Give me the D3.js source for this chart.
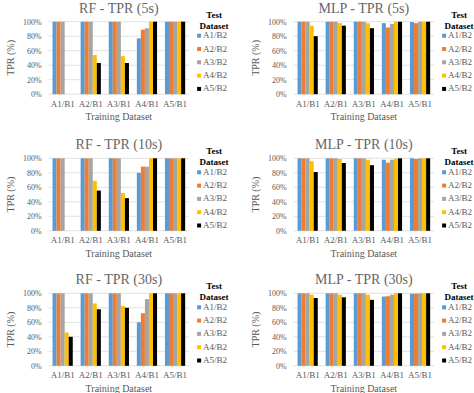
<!DOCTYPE html>
<html>
<head>
<meta charset="UTF-8">
<title>TPR panels</title>
<script src="https://cdn.jsdelivr.net/npm/d3@7"></script>
<style>
  body { margin: 0; background: #fff; }
  text { font-family: "Liberation Serif", "Times New Roman", serif; }
</style>
</head>
<body>
<svg id="svg" width="474" height="393"></svg>
<script>
// training datasets (x categories) and test datasets (series)
var categories = ["A1/B1", "A2/B1", "A3/B1", "A4/B1", "A5/B1"];
var series = ["A1/B2", "A2/B2", "A3/B2", "A4/B2", "A5/B2"];
var colors = ["#5B9BD5", "#ED7D31", "#A5A5A5", "#FFC000", "#000000"];
var yTicks = [0, 20, 40, 60, 80, 100];

// TPR (%) per training dataset, one value per test dataset
var rf5 = [
  [100, 100, 100, 0, 0],
  [100, 100, 100, 54, 43],
  [100, 100, 100, 52.5, 43],
  [77, 89, 91, 100, 100],
  [100, 100, 100, 100, 100]
];
var mlp5 = [
  [100, 100, 100, 94.5, 80],
  [100, 100, 100, 98, 94.5],
  [100, 100, 100, 98, 91],
  [98, 92, 97, 100, 100],
  [99.5, 98, 100, 100, 100]
];
var rf10 = [
  [100, 100, 100, 0, 0],
  [100, 100, 100, 69, 55.5],
  [100, 100, 100, 52, 45],
  [80, 88.5, 88.5, 100, 100],
  [100, 100, 100, 100, 100]
];
var mlp10 = [
  [100, 100, 100, 96, 81],
  [100, 100, 100, 99, 93.5],
  [100, 100, 100, 98, 90.5],
  [98, 94, 98, 99.5, 100],
  [100, 99, 100, 100, 100]
];
var rf30 = [
  [100, 100, 100, 46, 40],
  [100, 100, 100, 86, 78],
  [100, 100, 100, 82.5, 80],
  [60, 72.5, 92, 100, 100],
  [100, 100, 100, 100, 100]
];
var mlp30 = [
  [100, 100, 100, 98, 93.5],
  [100, 100, 100, 98, 94.5],
  [100, 100, 100, 98, 91],
  [95.5, 96, 98, 100, 100],
  [99.5, 99.5, 100, 100, 100]
];

var panels = [
  {title: "RF - TPR (5s)",   data: rf5,   col: 0, row: 0},
  {title: "MLP - TPR (5s)",  data: mlp5,  col: 1, row: 0},
  {title: "RF - TPR (10s)",  data: rf10,  col: 0, row: 1},
  {title: "MLP - TPR (10s)", data: mlp10, col: 1, row: 1},
  {title: "RF - TPR (30s)",  data: rf30,  col: 0, row: 2},
  {title: "MLP - TPR (30s)", data: mlp30, col: 1, row: 2}
];

var colX = [48.6, 293.6];   // left edge of plot area
var rowY = [21.7, 158.3, 293.3]; // top (100%) of plot area
var plotW = 140.5, plotH = 72.5;
var serif = '"Liberation Serif", "Times New Roman", serif';

var svg = d3.select('#svg');

panels.forEach(function(p) {
  var g = svg.append('g')
    .attr('transform', 'translate(' + colX[p.col] + ',' + rowY[p.row] + ')');

  var x = d3.scaleBand().domain(categories).range([0, plotW]).paddingInner(0.28).paddingOuter(0.14);
  var xs = d3.scaleBand().domain(series).range([0, x.bandwidth()]);
  var y = d3.scaleLinear().domain([0, 100]).range([plotH, 0]);

  // gridlines
  g.selectAll('.grid').data(yTicks).enter().append('line')
    .attr('x1', 0).attr('x2', plotW)
    .attr('y1', function(d) { return y(d); })
    .attr('y2', function(d) { return y(d); })
    .style('stroke', '#D9D9D9').style('stroke-width', 0.8);

  // y axis labels
  var yAxis = d3.axisLeft(y).tickValues(yTicks).tickSize(0).tickPadding(7)
    .tickFormat(function(d) { return d + '%'; });
  var ya = g.append('g').attr('font-family', serif).call(yAxis);
  ya.attr('font-family', serif);
  ya.select('.domain').remove();
  ya.selectAll('text').style('font-size', '8px').style('fill', '#595959');

  // x axis labels
  var xAxis = d3.axisBottom(x).tickSize(0).tickPadding(6);
  var xa = g.append('g').attr('transform', 'translate(0,' + plotH + ')').call(xAxis);
  xa.attr('font-family', serif);
  xa.select('.domain').remove();
  xa.selectAll('text').style('font-size', '9px').style('fill', '#595959');

  // bars
  var grp = g.selectAll('.grp').data(p.data).enter().append('g')
    .attr('transform', function(d, i) { return 'translate(' + x(categories[i]) + ',0)'; });
  grp.selectAll('rect').data(function(d) { return d; }).enter().append('rect')
    .attr('x', function(d, j) { return xs(series[j]); })
    .attr('width', xs.bandwidth())
    .attr('y', function(d) { return y(d); })
    .attr('height', function(d) { return plotH - y(d); })
    .style('fill', function(d, j) { return colors[j]; });

  // title
  g.append('text')
    .attr('x', plotW / 2).attr('y', -9)
    .attr('text-anchor', 'middle')
    .style('font-size', '14px').style('font-weight', 'normal').style('fill', '#666666')
    .text(p.title);

  // axis titles
  g.append('text')
    .attr('x', plotW / 2).attr('y', plotH + 26)
    .attr('text-anchor', 'middle')
    .style('font-size', '10px').style('fill', '#595959')
    .text('Training Dataset');

  g.append('text')
    .attr('transform', 'translate(-35,' + (plotH / 2) + ')rotate(-90)')
    .attr('text-anchor', 'middle')
    .style('font-size', '10px').style('fill', '#595959')
    .text('TPR (%)');

  // legend
  var lg = g.append('g').attr('transform', 'translate(' + (plotW + 8) + ',0)');
  lg.append('text').attr('x', 17).attr('y', -4).attr('text-anchor', 'middle')
    .style('font-size', '9px').style('font-weight', 'bold').style('fill', '#000')
    .text('Test');
  lg.append('text').attr('x', 17).attr('y', 7).attr('text-anchor', 'middle')
    .style('font-size', '9px').style('font-weight', 'bold').style('fill', '#000')
    .text('Dataset');
  var item = lg.selectAll('.item').data(series).enter().append('g')
    .attr('transform', function(d, i) { return 'translate(0,' + (16 + i * 13.3) + ')'; });
  item.append('rect').attr('x', 0).attr('y', -4).attr('width', 4).attr('height', 4)
    .style('fill', function(d, i) { return colors[i]; });
  item.append('text').attr('x', 6).attr('y', 0.5)
    .style('font-size', '9px').style('fill', '#595959')
    .text(function(d) { return d; });
});
</script>
</body>
</html>
